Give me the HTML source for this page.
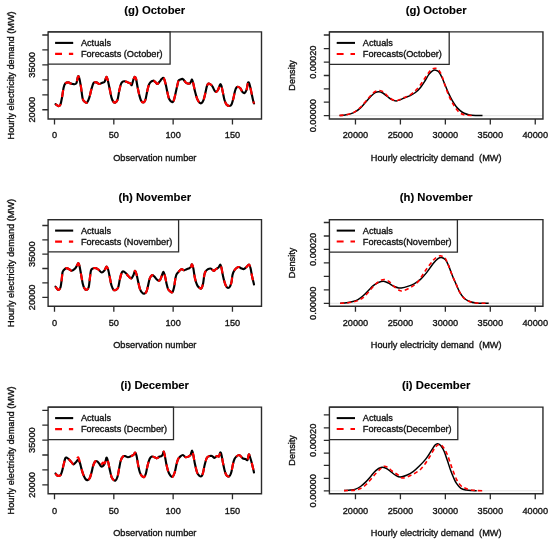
<!DOCTYPE html><html><head><meta charset="utf-8"><style>html,body{margin:0;padding:0;background:#fff;}svg{display:block;}text{font-family:"Liberation Sans", Arial, Helvetica, sans-serif;stroke:#111;stroke-width:0.34px;}</style></head><body>
<svg width="550" height="541" viewBox="0 0 550 541">
<rect width="550" height="541" fill="#fff"/>
<text x="154.80" y="13.60" font-size="11.3" font-weight="bold" text-anchor="middle" fill="#000" style="stroke-width:0.12px">(g) October</text>
<text x="436.18" y="13.60" font-size="11.3" font-weight="bold" text-anchor="middle" fill="#000" style="stroke-width:0.12px">(g) October</text>
<path d="M48.10 31.90H261.50V118.95H48.10Z" fill="none" stroke="#2b2b2b" stroke-width="1.4"/>
<path d="M42.30 35.00H48.10M42.30 49.95H48.10M42.30 64.90H48.10M42.30 79.85H48.10M42.30 94.80H48.10M42.30 109.75H48.10" stroke="#2b2b2b" stroke-width="1.3" fill="none"/>
<text transform="translate(35.3 64.90) rotate(-90)" font-size="9.2" text-anchor="middle" fill="#111">35000</text>
<text transform="translate(35.3 109.75) rotate(-90)" font-size="9.2" text-anchor="middle" fill="#111">20000</text>
<text transform="translate(13.9 75.42) rotate(-90)" font-size="9.2" text-anchor="middle" fill="#111">Hourly electricity demand (MW)</text>
<path d="M54.50 118.95V124.55M113.82 118.95V124.55M173.14 118.95V124.55M232.46 118.95V124.55" stroke="#2b2b2b" stroke-width="1.3" fill="none"/>
<text x="54.50" y="138.40" font-size="9.2" text-anchor="middle" fill="#111">0</text>
<text x="113.82" y="138.40" font-size="9.2" text-anchor="middle" fill="#111">50</text>
<text x="173.14" y="138.40" font-size="9.2" text-anchor="middle" fill="#111">100</text>
<text x="232.46" y="138.40" font-size="9.2" text-anchor="middle" fill="#111">150</text>
<text x="154.80" y="161.00" font-size="9.2" text-anchor="middle" fill="#111">Observation number</text>
<path d="M48.10 31.90H170.10V64.20H48.10" fill="none" stroke="#2b2b2b" stroke-width="1.3"/>
<path d="M55.10 42.90H73.20" stroke="#000" stroke-width="2.1"/>
<path d="M55.10 53.90H73.20" stroke="#f00" stroke-width="2.1" stroke-dasharray="6.9 6.9"/>
<text x="80.90" y="45.80" font-size="9.2" fill="#111">Actuals</text>
<text x="80.90" y="56.80" font-size="9.2" fill="#111">Forecasts (October)</text>
<path d="M55.50 104.20 C56.03 104.52 57.88 106.02 58.70 106.10 C59.52 106.18 59.85 106.12 60.40 104.70 C60.95 103.28 61.47 100.42 62.00 97.60 C62.53 94.78 63.05 90.15 63.60 87.80 C64.15 85.45 64.48 84.40 65.30 83.50 C66.12 82.60 67.60 82.40 68.50 82.40 C69.40 82.40 69.97 83.23 70.70 83.50 C71.43 83.77 71.98 84.00 72.90 84.00 C73.82 84.00 75.33 84.77 76.20 83.50 C77.07 82.23 77.55 77.13 78.10 76.40 C78.65 75.67 79.00 77.20 79.50 79.10 C80.00 81.00 80.57 84.53 81.10 87.80 C81.63 91.07 82.07 96.33 82.70 98.70 C83.33 101.07 84.17 101.37 84.90 102.00 C85.63 102.63 86.37 103.23 87.10 102.50 C87.83 101.77 88.57 99.87 89.30 97.60 C90.03 95.33 90.78 91.35 91.50 88.90 C92.22 86.45 92.78 83.98 93.60 82.90 C94.42 81.82 95.48 82.22 96.40 82.40 C97.32 82.58 98.20 83.92 99.10 84.00 C100.00 84.08 100.90 83.27 101.80 82.90 C102.70 82.53 103.72 82.80 104.50 81.80 C105.28 80.80 105.87 76.80 106.50 76.90 C107.13 77.00 107.73 80.22 108.30 82.40 C108.87 84.58 109.37 87.47 109.90 90.00 C110.43 92.53 110.95 95.68 111.50 97.60 C112.05 99.52 112.55 100.68 113.20 101.50 C113.85 102.32 114.68 102.78 115.40 102.50 C116.12 102.22 116.87 101.70 117.50 99.80 C118.13 97.90 118.65 93.65 119.20 91.10 C119.75 88.55 120.25 86.05 120.80 84.50 C121.35 82.95 121.87 82.33 122.50 81.80 C123.13 81.27 123.70 81.20 124.60 81.30 C125.50 81.40 126.90 82.03 127.90 82.40 C128.90 82.77 129.97 83.05 130.60 83.50 C131.23 83.95 131.23 85.75 131.70 85.10 C132.17 84.45 132.90 80.97 133.40 79.60 C133.90 78.23 134.25 76.98 134.70 76.90 C135.15 76.82 135.60 77.28 136.10 79.10 C136.60 80.92 137.15 85.07 137.70 87.80 C138.25 90.53 138.85 93.40 139.40 95.50 C139.95 97.60 140.37 99.23 141.00 100.40 C141.63 101.57 142.47 102.60 143.20 102.50 C143.93 102.40 144.77 101.52 145.40 99.80 C146.03 98.08 146.47 94.57 147.00 92.20 C147.53 89.83 148.05 87.23 148.60 85.60 C149.15 83.97 149.57 83.22 150.30 82.40 C151.03 81.58 152.18 80.80 153.00 80.70 C153.82 80.60 154.47 81.25 155.20 81.80 C155.93 82.35 156.68 84.00 157.40 84.00 C158.12 84.00 158.80 82.62 159.50 81.80 C160.20 80.98 160.97 79.77 161.60 79.10 C162.23 78.43 162.83 77.72 163.30 77.80 C163.77 77.88 163.95 78.30 164.40 79.60 C164.85 80.90 165.47 83.32 166.00 85.60 C166.53 87.88 167.05 91.02 167.60 93.30 C168.15 95.58 168.57 97.85 169.30 99.30 C170.03 100.75 171.28 101.73 172.00 102.00 C172.72 102.27 173.05 102.17 173.60 100.90 C174.15 99.63 174.75 96.67 175.30 94.40 C175.85 92.13 176.37 89.58 176.90 87.30 C177.43 85.02 177.95 81.98 178.50 80.70 C179.05 79.42 179.55 79.90 180.20 79.60 C180.85 79.30 181.77 78.80 182.40 78.90 C183.03 79.00 183.37 79.53 184.00 80.20 C184.63 80.87 185.28 82.35 186.20 82.90 C187.12 83.45 188.68 83.77 189.50 83.50 C190.32 83.23 190.68 81.95 191.10 81.30 C191.52 80.65 191.63 79.23 192.00 79.60 C192.37 79.97 192.82 81.58 193.30 83.50 C193.78 85.42 194.27 88.57 194.90 91.10 C195.53 93.63 196.37 96.80 197.10 98.70 C197.83 100.60 198.57 101.77 199.30 102.50 C200.03 103.23 200.78 103.55 201.50 103.10 C202.22 102.65 202.97 101.43 203.60 99.80 C204.23 98.17 204.75 95.57 205.30 93.30 C205.85 91.03 206.37 87.83 206.90 86.20 C207.43 84.57 207.87 83.78 208.50 83.50 C209.13 83.22 210.03 84.00 210.70 84.50 C211.37 85.00 211.87 85.50 212.50 86.50 C213.13 87.50 213.92 89.58 214.50 90.50 C215.08 91.42 215.42 92.08 216.00 92.00 C216.58 91.92 217.42 91.00 218.00 90.00 C218.58 89.00 219.08 87.00 219.50 86.00 C219.92 85.00 220.17 84.00 220.50 84.00 C220.83 84.00 221.08 84.50 221.50 86.00 C221.92 87.50 222.50 90.67 223.00 93.00 C223.50 95.33 223.92 98.08 224.50 100.00 C225.08 101.92 225.67 103.50 226.50 104.50 C227.33 105.50 228.67 106.00 229.50 106.00 C230.33 106.00 230.83 105.83 231.50 104.50 C232.17 103.17 232.92 100.25 233.50 98.00 C234.08 95.75 234.50 92.75 235.00 91.00 C235.50 89.25 235.92 88.17 236.50 87.50 C237.08 86.83 237.83 86.83 238.50 87.00 C239.17 87.17 239.83 87.67 240.50 88.50 C241.17 89.33 241.83 91.25 242.50 92.00 C243.17 92.75 243.83 93.33 244.50 93.00 C245.17 92.67 245.95 91.58 246.50 90.00 C247.05 88.42 247.42 84.75 247.80 83.50 C248.18 82.25 248.43 82.08 248.80 82.50 C249.17 82.92 249.55 84.25 250.00 86.00 C250.45 87.75 251.00 90.67 251.50 93.00 C252.00 95.33 252.58 98.25 253.00 100.00 C253.42 101.75 253.83 102.92 254.00 103.50" fill="none" stroke="#000" stroke-width="2.15" stroke-linejoin="round" stroke-linecap="round"/>
<path d="M55.50 104.20 C56.03 104.52 57.88 106.02 58.70 106.10 C59.52 106.18 59.85 106.12 60.40 104.70 C60.95 103.28 61.47 100.42 62.00 97.60 C62.53 94.78 63.05 90.15 63.60 87.80 C64.15 85.45 64.48 84.40 65.30 83.50 C66.12 82.60 67.60 82.40 68.50 82.40 C69.40 82.40 69.97 83.23 70.70 83.50 C71.43 83.77 71.98 84.00 72.90 84.00 C73.82 84.00 75.33 84.77 76.20 83.50 C77.07 82.23 77.55 77.13 78.10 76.40 C78.65 75.67 79.00 77.20 79.50 79.10 C80.00 81.00 80.57 84.53 81.10 87.80 C81.63 91.07 82.07 96.33 82.70 98.70 C83.33 101.07 84.17 101.37 84.90 102.00 C85.63 102.63 86.37 103.23 87.10 102.50 C87.83 101.77 88.57 99.87 89.30 97.60 C90.03 95.33 90.78 91.35 91.50 88.90 C92.22 86.45 92.78 83.98 93.60 82.90 C94.42 81.82 95.48 82.22 96.40 82.40 C97.32 82.58 98.20 83.92 99.10 84.00 C100.00 84.08 100.90 83.27 101.80 82.90 C102.70 82.53 103.72 82.80 104.50 81.80 C105.28 80.80 105.87 76.80 106.50 76.90 C107.13 77.00 107.73 80.22 108.30 82.40 C108.87 84.58 109.37 87.47 109.90 90.00 C110.43 92.53 110.95 95.68 111.50 97.60 C112.05 99.52 112.55 100.68 113.20 101.50 C113.85 102.32 114.68 102.78 115.40 102.50 C116.12 102.22 116.87 101.70 117.50 99.80 C118.13 97.90 118.65 93.65 119.20 91.10 C119.75 88.55 120.25 86.05 120.80 84.50 C121.35 82.95 121.87 82.33 122.50 81.80 C123.13 81.27 123.70 81.20 124.60 81.30 C125.50 81.40 126.90 82.03 127.90 82.40 C128.90 82.77 129.97 83.05 130.60 83.50 C131.23 83.95 131.23 85.75 131.70 85.10 C132.17 84.45 132.90 80.97 133.40 79.60 C133.90 78.23 134.25 76.98 134.70 76.90 C135.15 76.82 135.60 77.28 136.10 79.10 C136.60 80.92 137.15 85.07 137.70 87.80 C138.25 90.53 138.85 93.40 139.40 95.50 C139.95 97.60 140.37 99.23 141.00 100.40 C141.63 101.57 142.47 102.60 143.20 102.50 C143.93 102.40 144.77 101.52 145.40 99.80 C146.03 98.08 146.47 94.57 147.00 92.20 C147.53 89.83 148.05 87.23 148.60 85.60 C149.15 83.97 149.57 83.22 150.30 82.40 C151.03 81.58 152.18 80.80 153.00 80.70 C153.82 80.60 154.47 81.25 155.20 81.80 C155.93 82.35 156.68 84.00 157.40 84.00 C158.12 84.00 158.80 82.62 159.50 81.80 C160.20 80.98 160.97 79.77 161.60 79.10 C162.23 78.43 162.83 77.72 163.30 77.80 C163.77 77.88 163.95 78.30 164.40 79.60 C164.85 80.90 165.47 83.32 166.00 85.60 C166.53 87.88 167.05 91.02 167.60 93.30 C168.15 95.58 168.57 97.85 169.30 99.30 C170.03 100.75 171.28 101.73 172.00 102.00 C172.72 102.27 173.05 102.17 173.60 100.90 C174.15 99.63 174.75 96.67 175.30 94.40 C175.85 92.13 176.37 89.58 176.90 87.30 C177.43 85.02 177.95 81.98 178.50 80.70 C179.05 79.42 179.55 79.90 180.20 79.60 C180.85 79.30 181.77 78.80 182.40 78.90 C183.03 79.00 183.37 79.53 184.00 80.20 C184.63 80.87 185.28 82.35 186.20 82.90 C187.12 83.45 188.68 83.77 189.50 83.50 C190.32 83.23 190.68 81.95 191.10 81.30 C191.52 80.65 191.63 79.23 192.00 79.60 C192.37 79.97 192.82 81.58 193.30 83.50 C193.78 85.42 194.27 88.57 194.90 91.10 C195.53 93.63 196.37 96.80 197.10 98.70 C197.83 100.60 198.57 101.77 199.30 102.50 C200.03 103.23 200.78 103.55 201.50 103.10 C202.22 102.65 202.97 101.43 203.60 99.80 C204.23 98.17 204.75 95.57 205.30 93.30 C205.85 91.03 206.37 87.83 206.90 86.20 C207.43 84.57 207.87 83.78 208.50 83.50 C209.13 83.22 210.03 84.00 210.70 84.50 C211.37 85.00 211.87 85.50 212.50 86.50 C213.13 87.50 213.92 89.58 214.50 90.50 C215.08 91.42 215.42 92.08 216.00 92.00 C216.58 91.92 217.42 91.00 218.00 90.00 C218.58 89.00 219.08 87.00 219.50 86.00 C219.92 85.00 220.17 84.00 220.50 84.00 C220.83 84.00 221.08 84.50 221.50 86.00 C221.92 87.50 222.50 90.67 223.00 93.00 C223.50 95.33 223.92 98.08 224.50 100.00 C225.08 101.92 225.67 103.50 226.50 104.50 C227.33 105.50 228.67 106.00 229.50 106.00 C230.33 106.00 230.83 105.83 231.50 104.50 C232.17 103.17 232.92 100.25 233.50 98.00 C234.08 95.75 234.50 92.75 235.00 91.00 C235.50 89.25 235.92 88.17 236.50 87.50 C237.08 86.83 237.83 86.83 238.50 87.00 C239.17 87.17 239.83 87.67 240.50 88.50 C241.17 89.33 241.83 91.25 242.50 92.00 C243.17 92.75 243.83 93.33 244.50 93.00 C245.17 92.67 245.95 91.58 246.50 90.00 C247.05 88.42 247.42 84.75 247.80 83.50 C248.18 82.25 248.43 82.08 248.80 82.50 C249.17 82.92 249.55 84.25 250.00 86.00 C250.45 87.75 251.00 90.67 251.50 93.00 C252.00 95.33 252.58 98.25 253.00 100.00 C253.42 101.75 253.83 102.92 254.00 103.50" fill="none" stroke="#f00" stroke-width="2.15" stroke-linejoin="round" stroke-dasharray="7 7" stroke-dashoffset="0"/>
<path d="M329.40 115.70H542.95" stroke="#e0e0e0" stroke-width="0.9"/>
<path d="M329.40 31.90H542.95V118.95H329.40Z" fill="none" stroke="#2b2b2b" stroke-width="1.4"/>
<path d="M323.80 35.00H329.40M323.80 48.60H329.40M323.80 62.20H329.40M323.80 75.50H329.40M323.80 88.80H329.40M323.80 102.20H329.40M323.80 115.70H329.40" stroke="#2b2b2b" stroke-width="1.3" fill="none"/>
<text transform="translate(316.4 62.20) rotate(-90)" font-size="9.2" text-anchor="middle" fill="#111">0.00020</text>
<text transform="translate(316.4 115.70) rotate(-90)" font-size="9.2" text-anchor="middle" fill="#111">0.00000</text>
<text transform="translate(294.9 75.42) rotate(-90)" font-size="9.2" text-anchor="middle" fill="#111">Density</text>
<path d="M355.46 118.95V124.55M400.41 118.95V124.55M445.36 118.95V124.55M490.30 118.95V124.55M535.25 118.95V124.55" stroke="#2b2b2b" stroke-width="1.3" fill="none"/>
<text x="355.46" y="138.40" font-size="9.2" text-anchor="middle" fill="#111">20000</text>
<text x="400.41" y="138.40" font-size="9.2" text-anchor="middle" fill="#111">25000</text>
<text x="445.36" y="138.40" font-size="9.2" text-anchor="middle" fill="#111">30000</text>
<text x="490.30" y="138.40" font-size="9.2" text-anchor="middle" fill="#111">35000</text>
<text x="535.25" y="138.40" font-size="9.2" text-anchor="middle" fill="#111">40000</text>
<text x="436.18" y="161.00" font-size="9.2" text-anchor="middle" fill="#111" xml:space="preserve">Hourly electricity demand  (MW)</text>
<path d="M329.40 31.90H449.20V64.30H329.40" fill="none" stroke="#2b2b2b" stroke-width="1.3"/>
<path d="M336.70 42.90H355.00" stroke="#000" stroke-width="2.0"/>
<path d="M336.70 53.90H355.00" stroke="#f00" stroke-width="2.0" stroke-dasharray="6.9 6.9"/>
<text x="362.80" y="45.80" font-size="9.2" fill="#111">Actuals</text>
<text x="362.80" y="56.80" font-size="9.2" fill="#111">Forecasts(October)</text>
<path d="M339.50 115.50 C340.47 115.40 343.48 115.17 345.30 114.90 C347.12 114.63 348.70 114.43 350.40 113.90 C352.10 113.37 353.82 112.70 355.50 111.70 C357.18 110.70 358.82 109.48 360.50 107.90 C362.18 106.32 363.90 104.10 365.60 102.20 C367.30 100.30 369.10 98.10 370.70 96.50 C372.30 94.90 373.82 93.40 375.20 92.60 C376.58 91.80 377.73 91.63 379.00 91.70 C380.27 91.77 381.42 92.20 382.80 93.00 C384.18 93.80 385.82 95.40 387.30 96.50 C388.78 97.60 390.22 98.87 391.70 99.60 C393.18 100.33 394.80 100.88 396.20 100.90 C397.60 100.92 398.60 100.27 400.10 99.70 C401.60 99.13 403.50 98.18 405.20 97.50 C406.90 96.82 408.60 96.43 410.30 95.60 C412.00 94.77 413.70 93.87 415.40 92.50 C417.10 91.13 418.92 89.32 420.50 87.40 C422.08 85.48 423.53 83.13 424.90 81.00 C426.27 78.87 427.43 76.30 428.70 74.60 C429.97 72.90 431.33 71.53 432.50 70.80 C433.67 70.07 434.63 69.98 435.70 70.20 C436.77 70.42 437.83 70.83 438.90 72.10 C439.97 73.37 441.03 75.57 442.10 77.80 C443.17 80.03 444.23 82.95 445.30 85.50 C446.37 88.05 447.33 90.57 448.50 93.10 C449.67 95.63 451.03 98.47 452.30 100.70 C453.57 102.93 454.83 104.90 456.10 106.50 C457.37 108.10 458.55 109.17 459.90 110.30 C461.25 111.43 462.60 112.53 464.20 113.30 C465.80 114.07 467.53 114.53 469.50 114.90 C471.47 115.27 473.83 115.38 476.00 115.50 C478.17 115.62 481.42 115.58 482.50 115.60" fill="none" stroke="#000" stroke-width="1.5" stroke-linejoin="round"/>
<path d="M339.50 115.50 C340.47 115.40 343.48 115.20 345.30 114.90 C347.12 114.60 348.70 114.30 350.40 113.70 C352.10 113.10 353.82 112.37 355.50 111.30 C357.18 110.23 358.82 108.93 360.50 107.30 C362.18 105.67 363.90 103.45 365.60 101.50 C367.30 99.55 369.10 97.27 370.70 95.60 C372.30 93.93 373.73 92.35 375.20 91.50 C376.67 90.65 378.12 90.42 379.50 90.50 C380.88 90.58 382.20 91.12 383.50 92.00 C384.80 92.88 385.93 94.60 387.30 95.80 C388.67 97.00 390.22 98.38 391.70 99.20 C393.18 100.02 394.80 100.67 396.20 100.70 C397.60 100.73 398.80 99.92 400.10 99.40 C401.40 98.88 402.73 98.12 404.00 97.60 C405.27 97.08 406.03 97.23 407.70 96.30 C409.37 95.37 411.87 93.92 414.00 92.00 C416.13 90.08 418.37 87.58 420.50 84.80 C422.63 82.02 424.97 77.85 426.80 75.30 C428.63 72.75 430.02 70.67 431.50 69.50 C432.98 68.33 434.45 68.13 435.70 68.30 C436.95 68.47 437.95 69.22 439.00 70.50 C440.05 71.78 441.07 73.72 442.00 76.00 C442.93 78.28 443.48 80.98 444.60 84.20 C445.72 87.42 447.28 92.00 448.70 95.30 C450.12 98.60 451.47 101.28 453.10 104.00 C454.73 106.72 456.68 109.82 458.50 111.60 C460.32 113.38 461.63 114.03 464.00 114.70 C466.37 115.37 471.25 115.45 472.70 115.60" fill="none" stroke="#f00" stroke-width="1.6" stroke-dasharray="4 3"/>
<text x="154.80" y="201.30" font-size="11.3" font-weight="bold" text-anchor="middle" fill="#000" style="stroke-width:0.12px">(h) November</text>
<text x="436.18" y="201.30" font-size="11.3" font-weight="bold" text-anchor="middle" fill="#000" style="stroke-width:0.12px">(h) November</text>
<path d="M48.10 219.60H261.50V306.25H48.10Z" fill="none" stroke="#2b2b2b" stroke-width="1.4"/>
<path d="M42.30 225.50H48.10M42.30 239.90H48.10M42.30 254.20H48.10M42.30 268.50H48.10M42.30 282.90H48.10M42.30 297.40H48.10" stroke="#2b2b2b" stroke-width="1.3" fill="none"/>
<text transform="translate(35.3 254.20) rotate(-90)" font-size="9.2" text-anchor="middle" fill="#111">35000</text>
<text transform="translate(35.3 297.40) rotate(-90)" font-size="9.2" text-anchor="middle" fill="#111">20000</text>
<text transform="translate(13.9 262.93) rotate(-90)" font-size="9.2" text-anchor="middle" fill="#111">Hourly electricity demand (MW)</text>
<path d="M54.50 306.25V311.85M113.82 306.25V311.85M173.14 306.25V311.85M232.46 306.25V311.85" stroke="#2b2b2b" stroke-width="1.3" fill="none"/>
<text x="54.50" y="326.10" font-size="9.2" text-anchor="middle" fill="#111">0</text>
<text x="113.82" y="326.10" font-size="9.2" text-anchor="middle" fill="#111">50</text>
<text x="173.14" y="326.10" font-size="9.2" text-anchor="middle" fill="#111">100</text>
<text x="232.46" y="326.10" font-size="9.2" text-anchor="middle" fill="#111">150</text>
<text x="154.80" y="348.30" font-size="9.2" text-anchor="middle" fill="#111">Observation number</text>
<path d="M48.10 219.60H178.60V251.90H48.10" fill="none" stroke="#2b2b2b" stroke-width="1.3"/>
<path d="M55.10 230.60H73.20" stroke="#000" stroke-width="2.1"/>
<path d="M55.10 241.60H73.20" stroke="#f00" stroke-width="2.1" stroke-dasharray="6.9 6.9"/>
<text x="80.90" y="233.50" font-size="9.2" fill="#111">Actuals</text>
<text x="80.90" y="244.50" font-size="9.2" fill="#111">Forecasts (November)</text>
<path d="M55.50 286.60 C55.95 287.15 57.38 289.72 58.20 289.90 C59.02 290.08 59.85 289.15 60.40 287.70 C60.95 286.25 61.15 283.73 61.50 281.20 C61.85 278.67 62.15 274.32 62.50 272.50 C62.85 270.68 62.95 271.03 63.60 270.30 C64.25 269.57 65.48 268.28 66.40 268.10 C67.32 267.92 68.20 268.75 69.10 269.20 C70.00 269.65 70.80 270.90 71.80 270.80 C72.80 270.70 74.18 269.60 75.10 268.60 C76.02 267.60 76.75 265.70 77.30 264.80 C77.85 263.90 78.03 263.02 78.40 263.20 C78.77 263.38 79.05 264.00 79.50 265.90 C79.95 267.80 80.57 271.68 81.10 274.60 C81.63 277.52 82.15 281.12 82.70 283.40 C83.25 285.68 83.77 287.22 84.40 288.30 C85.03 289.38 85.78 290.08 86.50 289.90 C87.22 289.72 88.15 289.02 88.70 287.20 C89.25 285.38 89.43 281.73 89.80 279.00 C90.17 276.27 90.45 272.53 90.90 270.80 C91.35 269.07 91.68 269.05 92.50 268.60 C93.32 268.15 94.80 267.92 95.80 268.10 C96.80 268.28 97.50 268.97 98.50 269.70 C99.50 270.43 100.80 272.40 101.80 272.50 C102.80 272.60 103.70 271.30 104.50 270.30 C105.30 269.30 105.97 266.50 106.60 266.50 C107.23 266.50 107.75 268.40 108.30 270.30 C108.85 272.20 109.37 275.37 109.90 277.90 C110.43 280.43 110.87 283.50 111.50 285.50 C112.13 287.50 112.97 289.17 113.70 289.90 C114.43 290.63 115.17 290.27 115.90 289.90 C116.63 289.53 117.47 289.33 118.10 287.70 C118.73 286.07 119.15 282.47 119.70 280.10 C120.25 277.73 120.85 274.95 121.40 273.50 C121.95 272.05 122.28 271.48 123.00 271.40 C123.72 271.32 124.78 272.18 125.70 273.00 C126.62 273.82 127.58 275.38 128.50 276.30 C129.42 277.22 130.38 278.68 131.20 278.50 C132.02 278.32 132.77 276.48 133.40 275.20 C134.03 273.92 134.47 270.90 135.00 270.80 C135.53 270.70 136.05 272.68 136.60 274.60 C137.15 276.52 137.75 279.93 138.30 282.30 C138.85 284.67 139.27 287.08 139.90 288.80 C140.53 290.52 141.37 291.78 142.10 292.60 C142.83 293.42 143.57 293.88 144.30 293.70 C145.03 293.52 145.87 292.87 146.50 291.50 C147.13 290.13 147.57 287.67 148.10 285.50 C148.63 283.33 149.07 280.22 149.70 278.50 C150.33 276.78 151.17 275.57 151.90 275.20 C152.63 274.83 153.37 275.67 154.10 276.30 C154.83 276.93 155.57 278.28 156.30 279.00 C157.03 279.72 157.88 280.42 158.50 280.60 C159.12 280.78 159.48 280.82 160.00 280.10 C160.52 279.38 161.05 277.67 161.60 276.30 C162.15 274.93 162.75 272.00 163.30 271.90 C163.85 271.80 164.37 273.78 164.90 275.70 C165.43 277.62 165.95 281.12 166.50 283.40 C167.05 285.68 167.55 288.05 168.20 289.40 C168.85 290.75 169.68 291.05 170.40 291.50 C171.12 291.95 171.87 292.92 172.50 292.10 C173.13 291.28 173.73 288.78 174.20 286.60 C174.67 284.42 174.93 281.00 175.30 279.00 C175.67 277.00 175.87 275.78 176.40 274.60 C176.93 273.42 177.68 272.80 178.50 271.90 C179.32 271.00 180.38 269.47 181.30 269.20 C182.22 268.93 183.10 270.30 184.00 270.30 C184.90 270.30 185.78 269.57 186.70 269.20 C187.62 268.83 188.77 268.55 189.50 268.10 C190.23 267.65 190.68 267.13 191.10 266.50 C191.52 265.87 191.63 264.03 192.00 264.30 C192.37 264.57 192.82 265.83 193.30 268.10 C193.78 270.37 194.27 275.08 194.90 277.90 C195.53 280.72 196.37 283.37 197.10 285.00 C197.83 286.63 198.57 287.15 199.30 287.70 C200.03 288.25 200.87 289.02 201.50 288.30 C202.13 287.58 202.65 285.50 203.10 283.40 C203.55 281.30 203.83 277.62 204.20 275.70 C204.57 273.78 204.67 272.98 205.30 271.90 C205.93 270.82 207.13 269.77 208.00 269.20 C208.87 268.63 209.83 268.45 210.50 268.50 C211.17 268.55 211.42 269.08 212.00 269.50 C212.58 269.92 213.33 271.08 214.00 271.00 C214.67 270.92 215.25 269.58 216.00 269.00 C216.75 268.42 217.78 268.25 218.50 267.50 C219.22 266.75 219.80 264.42 220.30 264.50 C220.80 264.58 221.05 266.08 221.50 268.00 C221.95 269.92 222.50 273.67 223.00 276.00 C223.50 278.33 224.00 280.33 224.50 282.00 C225.00 283.67 225.42 285.00 226.00 286.00 C226.58 287.00 227.33 287.92 228.00 288.00 C228.67 288.08 229.42 287.50 230.00 286.50 C230.58 285.50 231.08 283.92 231.50 282.00 C231.92 280.08 232.08 276.83 232.50 275.00 C232.92 273.17 233.33 272.17 234.00 271.00 C234.67 269.83 235.67 268.67 236.50 268.00 C237.33 267.33 238.17 266.92 239.00 267.00 C239.83 267.08 240.67 268.17 241.50 268.50 C242.33 268.83 243.17 269.25 244.00 269.00 C244.83 268.75 245.67 267.75 246.50 267.00 C247.33 266.25 248.33 264.33 249.00 264.50 C249.67 264.67 250.00 266.08 250.50 268.00 C251.00 269.92 251.42 273.25 252.00 276.00 C252.58 278.75 253.67 283.08 254.00 284.50" fill="none" stroke="#000" stroke-width="2.15" stroke-linejoin="round" stroke-linecap="round"/>
<path d="M55.50 286.60 C55.95 287.15 57.38 289.72 58.20 289.90 C59.02 290.08 59.85 289.15 60.40 287.70 C60.95 286.25 61.15 283.73 61.50 281.20 C61.85 278.67 62.15 274.32 62.50 272.50 C62.85 270.68 62.95 271.03 63.60 270.30 C64.25 269.57 65.48 268.28 66.40 268.10 C67.32 267.92 68.20 268.75 69.10 269.20 C70.00 269.65 70.80 270.90 71.80 270.80 C72.80 270.70 74.18 269.60 75.10 268.60 C76.02 267.60 76.75 265.70 77.30 264.80 C77.85 263.90 78.03 263.02 78.40 263.20 C78.77 263.38 79.05 264.00 79.50 265.90 C79.95 267.80 80.57 271.68 81.10 274.60 C81.63 277.52 82.15 281.12 82.70 283.40 C83.25 285.68 83.77 287.22 84.40 288.30 C85.03 289.38 85.78 290.08 86.50 289.90 C87.22 289.72 88.15 289.02 88.70 287.20 C89.25 285.38 89.43 281.73 89.80 279.00 C90.17 276.27 90.45 272.53 90.90 270.80 C91.35 269.07 91.68 269.05 92.50 268.60 C93.32 268.15 94.80 267.92 95.80 268.10 C96.80 268.28 97.50 268.97 98.50 269.70 C99.50 270.43 100.80 272.40 101.80 272.50 C102.80 272.60 103.70 271.30 104.50 270.30 C105.30 269.30 105.97 266.50 106.60 266.50 C107.23 266.50 107.75 268.40 108.30 270.30 C108.85 272.20 109.37 275.37 109.90 277.90 C110.43 280.43 110.87 283.50 111.50 285.50 C112.13 287.50 112.97 289.17 113.70 289.90 C114.43 290.63 115.17 290.27 115.90 289.90 C116.63 289.53 117.47 289.33 118.10 287.70 C118.73 286.07 119.15 282.47 119.70 280.10 C120.25 277.73 120.85 274.95 121.40 273.50 C121.95 272.05 122.28 271.48 123.00 271.40 C123.72 271.32 124.78 272.18 125.70 273.00 C126.62 273.82 127.58 275.38 128.50 276.30 C129.42 277.22 130.38 278.68 131.20 278.50 C132.02 278.32 132.77 276.48 133.40 275.20 C134.03 273.92 134.47 270.90 135.00 270.80 C135.53 270.70 136.05 272.68 136.60 274.60 C137.15 276.52 137.75 279.93 138.30 282.30 C138.85 284.67 139.27 287.08 139.90 288.80 C140.53 290.52 141.37 291.78 142.10 292.60 C142.83 293.42 143.57 293.88 144.30 293.70 C145.03 293.52 145.87 292.87 146.50 291.50 C147.13 290.13 147.57 287.67 148.10 285.50 C148.63 283.33 149.07 280.22 149.70 278.50 C150.33 276.78 151.17 275.57 151.90 275.20 C152.63 274.83 153.37 275.67 154.10 276.30 C154.83 276.93 155.57 278.28 156.30 279.00 C157.03 279.72 157.88 280.42 158.50 280.60 C159.12 280.78 159.48 280.82 160.00 280.10 C160.52 279.38 161.05 277.67 161.60 276.30 C162.15 274.93 162.75 272.00 163.30 271.90 C163.85 271.80 164.37 273.78 164.90 275.70 C165.43 277.62 165.95 281.12 166.50 283.40 C167.05 285.68 167.55 288.05 168.20 289.40 C168.85 290.75 169.68 291.05 170.40 291.50 C171.12 291.95 171.87 292.92 172.50 292.10 C173.13 291.28 173.73 288.78 174.20 286.60 C174.67 284.42 174.93 281.00 175.30 279.00 C175.67 277.00 175.87 275.78 176.40 274.60 C176.93 273.42 177.68 272.80 178.50 271.90 C179.32 271.00 180.38 269.47 181.30 269.20 C182.22 268.93 183.10 270.30 184.00 270.30 C184.90 270.30 185.78 269.57 186.70 269.20 C187.62 268.83 188.77 268.55 189.50 268.10 C190.23 267.65 190.68 267.13 191.10 266.50 C191.52 265.87 191.63 264.03 192.00 264.30 C192.37 264.57 192.82 265.83 193.30 268.10 C193.78 270.37 194.27 275.08 194.90 277.90 C195.53 280.72 196.37 283.37 197.10 285.00 C197.83 286.63 198.57 287.15 199.30 287.70 C200.03 288.25 200.87 289.02 201.50 288.30 C202.13 287.58 202.65 285.50 203.10 283.40 C203.55 281.30 203.83 277.62 204.20 275.70 C204.57 273.78 204.67 272.98 205.30 271.90 C205.93 270.82 207.13 269.77 208.00 269.20 C208.87 268.63 209.83 268.45 210.50 268.50 C211.17 268.55 211.42 269.08 212.00 269.50 C212.58 269.92 213.33 271.08 214.00 271.00 C214.67 270.92 215.25 269.58 216.00 269.00 C216.75 268.42 217.78 268.25 218.50 267.50 C219.22 266.75 219.80 264.42 220.30 264.50 C220.80 264.58 221.05 266.08 221.50 268.00 C221.95 269.92 222.50 273.67 223.00 276.00 C223.50 278.33 224.00 280.33 224.50 282.00 C225.00 283.67 225.42 285.00 226.00 286.00 C226.58 287.00 227.33 287.92 228.00 288.00 C228.67 288.08 229.42 287.50 230.00 286.50 C230.58 285.50 231.08 283.92 231.50 282.00 C231.92 280.08 232.08 276.83 232.50 275.00 C232.92 273.17 233.33 272.17 234.00 271.00 C234.67 269.83 235.67 268.67 236.50 268.00 C237.33 267.33 238.17 266.92 239.00 267.00 C239.83 267.08 240.67 268.17 241.50 268.50 C242.33 268.83 243.17 269.25 244.00 269.00 C244.83 268.75 245.67 267.75 246.50 267.00 C247.33 266.25 248.33 264.33 249.00 264.50 C249.67 264.67 250.00 266.08 250.50 268.00 C251.00 269.92 251.42 273.25 252.00 276.00 C252.58 278.75 253.67 283.08 254.00 284.50" fill="none" stroke="#f00" stroke-width="2.15" stroke-linejoin="round" stroke-dasharray="7 7" stroke-dashoffset="0"/>
<path d="M329.40 303.30H542.95" stroke="#e0e0e0" stroke-width="0.9"/>
<path d="M329.40 219.60H542.95V306.25H329.40Z" fill="none" stroke="#2b2b2b" stroke-width="1.4"/>
<path d="M323.80 222.50H329.40M323.80 236.00H329.40M323.80 249.40H329.40M323.80 262.90H329.40M323.80 276.30H329.40M323.80 289.80H329.40M323.80 303.30H329.40" stroke="#2b2b2b" stroke-width="1.3" fill="none"/>
<text transform="translate(316.4 249.40) rotate(-90)" font-size="9.2" text-anchor="middle" fill="#111">0.00020</text>
<text transform="translate(316.4 303.30) rotate(-90)" font-size="9.2" text-anchor="middle" fill="#111">0.00000</text>
<text transform="translate(294.9 262.93) rotate(-90)" font-size="9.2" text-anchor="middle" fill="#111">Density</text>
<path d="M355.46 306.25V311.85M400.41 306.25V311.85M445.36 306.25V311.85M490.30 306.25V311.85M535.25 306.25V311.85" stroke="#2b2b2b" stroke-width="1.3" fill="none"/>
<text x="355.46" y="326.10" font-size="9.2" text-anchor="middle" fill="#111">20000</text>
<text x="400.41" y="326.10" font-size="9.2" text-anchor="middle" fill="#111">25000</text>
<text x="445.36" y="326.10" font-size="9.2" text-anchor="middle" fill="#111">30000</text>
<text x="490.30" y="326.10" font-size="9.2" text-anchor="middle" fill="#111">35000</text>
<text x="535.25" y="326.10" font-size="9.2" text-anchor="middle" fill="#111">40000</text>
<text x="436.18" y="348.30" font-size="9.2" text-anchor="middle" fill="#111" xml:space="preserve">Hourly electricity demand  (MW)</text>
<path d="M329.40 219.60H457.40V252.20H329.40" fill="none" stroke="#2b2b2b" stroke-width="1.3"/>
<path d="M336.70 230.60H355.00" stroke="#000" stroke-width="2.0"/>
<path d="M336.70 241.60H355.00" stroke="#f00" stroke-width="2.0" stroke-dasharray="6.9 6.9"/>
<text x="362.80" y="233.50" font-size="9.2" fill="#111">Actuals</text>
<text x="362.80" y="244.50" font-size="9.2" fill="#111">Forecasts(November)</text>
<path d="M340.20 303.20 C341.25 303.13 344.38 303.08 346.50 302.80 C348.62 302.52 350.98 302.03 352.90 301.50 C354.82 300.97 356.30 300.55 358.00 299.60 C359.70 298.65 361.40 297.28 363.10 295.80 C364.80 294.32 366.50 292.40 368.20 290.70 C369.90 289.00 371.60 286.97 373.30 285.60 C375.00 284.23 376.70 283.23 378.40 282.50 C380.10 281.77 381.82 281.10 383.50 281.20 C385.18 281.30 386.82 282.25 388.50 283.10 C390.18 283.95 391.90 285.50 393.60 286.30 C395.30 287.10 397.40 287.62 398.70 287.90 C400.00 288.18 399.90 288.25 401.40 288.00 C402.90 287.75 405.58 287.10 407.70 286.40 C409.82 285.70 411.97 284.97 414.10 283.80 C416.23 282.63 418.38 281.30 420.50 279.40 C422.62 277.50 424.68 275.05 426.80 272.40 C428.92 269.75 431.28 265.83 433.20 263.50 C435.12 261.17 436.92 259.40 438.30 258.40 C439.68 257.40 440.33 257.30 441.50 257.50 C442.67 257.70 444.13 258.28 445.30 259.60 C446.47 260.92 447.33 262.75 448.50 265.40 C449.67 268.05 451.00 272.30 452.30 275.50 C453.60 278.70 455.05 281.80 456.30 284.60 C457.55 287.40 458.48 290.02 459.80 292.30 C461.12 294.58 462.57 296.77 464.20 298.30 C465.83 299.83 467.60 300.72 469.60 301.50 C471.60 302.28 474.02 302.72 476.20 303.00 C478.38 303.28 480.62 303.15 482.70 303.20 C484.78 303.25 487.70 303.28 488.70 303.30" fill="none" stroke="#000" stroke-width="1.5" stroke-linejoin="round"/>
<path d="M340.20 303.20 C341.25 303.17 344.38 303.20 346.50 303.00 C348.62 302.80 350.98 302.40 352.90 302.00 C354.82 301.60 356.30 301.32 358.00 300.60 C359.70 299.88 361.40 299.05 363.10 297.70 C364.80 296.35 366.50 294.37 368.20 292.50 C369.90 290.63 371.60 288.28 373.30 286.50 C375.00 284.72 376.60 282.97 378.40 281.80 C380.20 280.63 382.33 279.55 384.10 279.50 C385.87 279.45 387.42 280.42 389.00 281.50 C390.58 282.58 391.98 284.58 393.60 286.00 C395.22 287.42 397.20 289.20 398.70 290.00 C400.20 290.80 400.67 291.20 402.60 290.80 C404.53 290.40 407.75 289.08 410.30 287.60 C412.85 286.12 415.37 284.75 417.90 281.90 C420.43 279.05 422.95 274.10 425.50 270.50 C428.05 266.90 431.28 262.55 433.20 260.30 C435.12 258.05 435.83 257.75 437.00 257.00 C438.17 256.25 439.20 255.87 440.20 255.80 C441.20 255.73 442.15 256.17 443.00 256.60 C443.85 257.03 444.38 256.93 445.30 258.40 C446.22 259.87 447.33 262.55 448.50 265.40 C449.67 268.25 451.00 272.30 452.30 275.50 C453.60 278.70 455.05 281.80 456.30 284.60 C457.55 287.40 458.48 290.02 459.80 292.30 C461.12 294.58 462.57 296.77 464.20 298.30 C465.83 299.83 467.60 300.72 469.60 301.50 C471.60 302.28 474.02 302.72 476.20 303.00 C478.38 303.28 480.62 303.15 482.70 303.20 C484.78 303.25 487.70 303.28 488.70 303.30" fill="none" stroke="#f00" stroke-width="1.6" stroke-dasharray="4 3"/>
<text x="154.80" y="388.90" font-size="11.3" font-weight="bold" text-anchor="middle" fill="#000" style="stroke-width:0.12px">(i) December</text>
<text x="436.18" y="388.90" font-size="11.3" font-weight="bold" text-anchor="middle" fill="#000" style="stroke-width:0.12px">(i) December</text>
<path d="M48.10 407.10H261.50V493.70H48.10Z" fill="none" stroke="#2b2b2b" stroke-width="1.4"/>
<path d="M42.30 410.30H48.10M42.30 425.20H48.10M42.30 440.10H48.10M42.30 455.00H48.10M42.30 469.90H48.10M42.30 484.90H48.10" stroke="#2b2b2b" stroke-width="1.3" fill="none"/>
<text transform="translate(35.3 440.10) rotate(-90)" font-size="9.2" text-anchor="middle" fill="#111">35000</text>
<text transform="translate(35.3 484.90) rotate(-90)" font-size="9.2" text-anchor="middle" fill="#111">20000</text>
<text transform="translate(13.9 450.40) rotate(-90)" font-size="9.2" text-anchor="middle" fill="#111">Hourly electricity demand (MW)</text>
<path d="M54.50 493.70V499.30M113.82 493.70V499.30M173.14 493.70V499.30M232.46 493.70V499.30" stroke="#2b2b2b" stroke-width="1.3" fill="none"/>
<text x="54.50" y="513.70" font-size="9.2" text-anchor="middle" fill="#111">0</text>
<text x="113.82" y="513.70" font-size="9.2" text-anchor="middle" fill="#111">50</text>
<text x="173.14" y="513.70" font-size="9.2" text-anchor="middle" fill="#111">100</text>
<text x="232.46" y="513.70" font-size="9.2" text-anchor="middle" fill="#111">150</text>
<text x="154.80" y="535.50" font-size="9.2" text-anchor="middle" fill="#111">Observation number</text>
<path d="M48.10 407.10H173.50V439.60H48.10" fill="none" stroke="#2b2b2b" stroke-width="1.3"/>
<path d="M55.10 418.10H73.20" stroke="#000" stroke-width="2.1"/>
<path d="M55.10 429.10H73.20" stroke="#f00" stroke-width="2.1" stroke-dasharray="6.9 6.9"/>
<text x="80.90" y="421.00" font-size="9.2" fill="#111">Actuals</text>
<text x="80.90" y="432.00" font-size="9.2" fill="#111">Forecasts (Decmber)</text>
<path d="M55.50 473.50 C55.85 473.87 56.78 475.42 57.60 475.70 C58.42 475.98 59.67 475.92 60.40 475.20 C61.13 474.48 61.47 473.13 62.00 471.40 C62.53 469.67 63.05 466.98 63.60 464.80 C64.15 462.62 64.75 459.48 65.30 458.30 C65.85 457.12 66.27 457.52 66.90 457.70 C67.53 457.88 68.28 458.58 69.10 459.40 C69.92 460.22 71.07 461.78 71.80 462.60 C72.53 463.42 72.87 464.30 73.50 464.30 C74.13 464.30 74.92 463.28 75.60 462.60 C76.28 461.92 77.10 460.58 77.60 460.20 C78.10 459.82 78.20 459.80 78.60 460.30 C79.00 460.80 79.50 461.72 80.00 463.20 C80.50 464.68 81.05 467.30 81.60 469.20 C82.15 471.10 82.65 472.97 83.30 474.60 C83.95 476.23 84.78 478.08 85.50 479.00 C86.22 479.92 86.88 480.28 87.60 480.10 C88.32 479.92 89.15 479.17 89.80 477.90 C90.45 476.63 90.95 474.50 91.50 472.50 C92.05 470.50 92.57 467.63 93.10 465.90 C93.63 464.17 94.25 462.90 94.70 462.10 C95.15 461.30 95.35 461.20 95.80 461.10 C96.25 461.00 96.78 461.02 97.40 461.50 C98.02 461.98 98.88 463.18 99.50 464.00 C100.12 464.82 100.55 466.05 101.10 466.40 C101.65 466.75 102.23 466.50 102.80 466.10 C103.37 465.70 104.03 464.88 104.50 464.00 C104.97 463.12 105.23 461.85 105.60 460.80 C105.97 459.75 106.25 457.40 106.70 457.70 C107.15 458.00 107.77 460.50 108.30 462.60 C108.83 464.70 109.37 467.93 109.90 470.30 C110.43 472.67 110.95 475.27 111.50 476.80 C112.05 478.33 112.55 478.87 113.20 479.50 C113.85 480.13 114.68 481.05 115.40 480.60 C116.12 480.15 116.87 478.88 117.50 476.80 C118.13 474.72 118.65 470.82 119.20 468.10 C119.75 465.38 120.17 462.42 120.80 460.50 C121.43 458.58 122.27 457.33 123.00 456.60 C123.73 455.87 124.38 456.00 125.20 456.10 C126.02 456.20 126.90 457.20 127.90 457.20 C128.90 457.20 130.20 456.55 131.20 456.10 C132.20 455.65 133.23 455.08 133.90 454.50 C134.57 453.92 134.75 452.33 135.20 452.60 C135.65 452.87 136.08 453.88 136.60 456.10 C137.12 458.32 137.75 463.17 138.30 465.90 C138.85 468.63 139.27 470.77 139.90 472.50 C140.53 474.23 141.37 475.58 142.10 476.30 C142.83 477.02 143.67 477.27 144.30 476.80 C144.93 476.33 145.37 475.32 145.90 473.50 C146.43 471.68 146.87 468.35 147.50 465.90 C148.13 463.45 148.97 460.35 149.70 458.80 C150.43 457.25 151.08 456.87 151.90 456.60 C152.72 456.33 153.78 456.92 154.60 457.20 C155.42 457.48 155.98 458.40 156.80 458.30 C157.62 458.20 158.70 456.97 159.50 456.60 C160.30 456.23 161.07 456.45 161.60 456.10 C162.13 455.75 162.33 455.23 162.70 454.50 C163.07 453.77 163.43 451.43 163.80 451.70 C164.17 451.97 164.45 453.92 164.90 456.10 C165.35 458.28 165.95 462.25 166.50 464.80 C167.05 467.35 167.55 469.58 168.20 471.40 C168.85 473.22 169.68 474.80 170.40 475.70 C171.12 476.60 171.78 477.33 172.50 476.80 C173.22 476.27 174.05 474.50 174.70 472.50 C175.35 470.50 175.85 466.98 176.40 464.80 C176.95 462.62 177.37 460.77 178.00 459.40 C178.63 458.03 179.38 457.33 180.20 456.60 C181.02 455.87 182.00 454.90 182.90 455.00 C183.80 455.10 184.68 456.93 185.60 457.20 C186.52 457.47 187.58 456.97 188.40 456.60 C189.22 456.23 189.90 456.00 190.50 455.00 C191.10 454.00 191.53 450.60 192.00 450.60 C192.47 450.60 192.82 452.82 193.30 455.00 C193.78 457.18 194.27 460.78 194.90 463.70 C195.53 466.62 196.37 470.50 197.10 472.50 C197.83 474.50 198.57 475.07 199.30 475.70 C200.03 476.33 200.87 476.83 201.50 476.30 C202.13 475.77 202.57 474.42 203.10 472.50 C203.63 470.58 204.07 467.27 204.70 464.80 C205.33 462.33 206.08 459.15 206.90 457.70 C207.72 456.25 208.75 456.38 209.60 456.10 C210.45 455.82 211.18 455.72 212.00 456.00 C212.82 456.28 213.67 457.80 214.50 457.80 C215.33 457.80 216.25 456.22 217.00 456.00 C217.75 455.78 218.45 457.08 219.00 456.50 C219.55 455.92 219.88 452.75 220.30 452.50 C220.72 452.25 221.05 453.25 221.50 455.00 C221.95 456.75 222.50 460.50 223.00 463.00 C223.50 465.50 224.00 468.08 224.50 470.00 C225.00 471.92 225.42 473.42 226.00 474.50 C226.58 475.58 227.33 476.33 228.00 476.50 C228.67 476.67 229.42 476.33 230.00 475.50 C230.58 474.67 231.00 473.42 231.50 471.50 C232.00 469.58 232.50 466.08 233.00 464.00 C233.50 461.92 233.92 460.25 234.50 459.00 C235.08 457.75 235.75 457.17 236.50 456.50 C237.25 455.83 238.25 455.00 239.00 455.00 C239.75 455.00 240.33 455.92 241.00 456.50 C241.67 457.08 242.25 458.08 243.00 458.50 C243.75 458.92 244.75 458.75 245.50 459.00 C246.25 459.25 246.95 460.75 247.50 460.00 C248.05 459.25 248.38 455.00 248.80 454.50 C249.22 454.00 249.55 455.75 250.00 457.00 C250.45 458.25 251.00 460.17 251.50 462.00 C252.00 463.83 252.58 466.25 253.00 468.00 C253.42 469.75 253.83 471.75 254.00 472.50" fill="none" stroke="#000" stroke-width="2.15" stroke-linejoin="round" stroke-linecap="round"/>
<path d="M55.50 473.50 C55.85 473.87 56.78 475.42 57.60 475.70 C58.42 475.98 59.67 475.92 60.40 475.20 C61.13 474.48 61.47 473.13 62.00 471.40 C62.53 469.67 63.05 466.98 63.60 464.80 C64.15 462.62 64.75 459.48 65.30 458.30 C65.85 457.12 66.27 457.52 66.90 457.70 C67.53 457.88 68.28 458.58 69.10 459.40 C69.92 460.22 71.07 461.78 71.80 462.60 C72.53 463.42 72.87 464.34 73.50 464.30 C74.13 464.25 74.92 463.42 75.60 462.33 C76.28 461.24 77.10 458.47 77.60 457.76 C78.10 457.04 78.20 457.22 78.60 458.04 C79.00 458.86 79.50 460.80 80.00 462.66 C80.50 464.51 81.05 467.19 81.60 469.18 C82.15 471.17 82.65 472.96 83.30 474.60 C83.95 476.24 84.78 478.08 85.50 479.00 C86.22 479.92 86.88 480.28 87.60 480.10 C88.32 479.92 89.15 479.17 89.80 477.90 C90.45 476.63 90.95 474.50 91.50 472.50 C92.05 470.50 92.57 467.63 93.10 465.90 C93.63 464.17 94.25 462.90 94.70 462.10 C95.15 461.30 95.35 461.20 95.80 461.10 C96.25 461.00 96.78 461.02 97.40 461.50 C98.02 461.98 98.88 463.35 99.50 463.97 C100.12 464.60 100.55 465.49 101.10 465.26 C101.65 465.02 102.23 462.88 102.80 462.57 C103.37 462.27 104.03 463.73 104.50 463.43 C104.97 463.13 105.23 461.72 105.60 460.76 C105.97 459.81 106.25 457.39 106.70 457.70 C107.15 458.01 107.77 460.50 108.30 462.60 C108.83 464.70 109.37 467.93 109.90 470.30 C110.43 472.67 110.95 475.27 111.50 476.80 C112.05 478.33 112.55 478.87 113.20 479.50 C113.85 480.13 114.68 481.05 115.40 480.60 C116.12 480.15 116.87 478.88 117.50 476.80 C118.13 474.72 118.65 470.82 119.20 468.10 C119.75 465.38 120.17 462.42 120.80 460.50 C121.43 458.58 122.27 457.33 123.00 456.60 C123.73 455.87 124.38 456.00 125.20 456.10 C126.02 456.20 126.90 457.20 127.90 457.20 C128.90 457.20 130.20 456.55 131.20 456.10 C132.20 455.65 133.23 455.08 133.90 454.50 C134.57 453.92 134.75 452.33 135.20 452.60 C135.65 452.87 136.08 453.88 136.60 456.10 C137.12 458.32 137.75 463.17 138.30 465.90 C138.85 468.63 139.27 470.77 139.90 472.50 C140.53 474.23 141.37 475.58 142.10 476.30 C142.83 477.02 143.67 477.27 144.30 476.80 C144.93 476.33 145.37 475.32 145.90 473.50 C146.43 471.68 146.87 468.35 147.50 465.90 C148.13 463.45 148.97 460.35 149.70 458.80 C150.43 457.25 151.08 456.87 151.90 456.60 C152.72 456.33 153.78 456.92 154.60 457.20 C155.42 457.48 155.98 458.40 156.80 458.30 C157.62 458.20 158.70 456.97 159.50 456.60 C160.30 456.23 161.07 456.45 161.60 456.10 C162.13 455.75 162.33 455.23 162.70 454.50 C163.07 453.77 163.43 451.43 163.80 451.70 C164.17 451.97 164.45 453.92 164.90 456.10 C165.35 458.28 165.95 462.25 166.50 464.80 C167.05 467.35 167.55 469.58 168.20 471.40 C168.85 473.22 169.68 474.80 170.40 475.70 C171.12 476.60 171.78 477.33 172.50 476.80 C173.22 476.27 174.05 474.50 174.70 472.50 C175.35 470.50 175.85 466.98 176.40 464.80 C176.95 462.62 177.37 460.77 178.00 459.40 C178.63 458.03 179.38 457.33 180.20 456.60 C181.02 455.87 182.00 454.90 182.90 455.00 C183.80 455.10 184.68 456.93 185.60 457.20 C186.52 457.47 187.58 456.97 188.40 456.60 C189.22 456.23 189.90 456.00 190.50 455.00 C191.10 454.00 191.53 450.60 192.00 450.60 C192.47 450.60 192.82 452.82 193.30 455.00 C193.78 457.18 194.27 460.78 194.90 463.70 C195.53 466.62 196.37 470.50 197.10 472.50 C197.83 474.50 198.57 475.07 199.30 475.70 C200.03 476.33 200.87 476.83 201.50 476.30 C202.13 475.77 202.57 474.42 203.10 472.50 C203.63 470.58 204.07 467.27 204.70 464.80 C205.33 462.33 206.08 459.15 206.90 457.70 C207.72 456.25 208.75 456.38 209.60 456.10 C210.45 455.82 211.18 455.72 212.00 456.00 C212.82 456.28 213.67 457.80 214.50 457.80 C215.33 457.80 216.25 456.22 217.00 456.00 C217.75 455.78 218.45 457.08 219.00 456.50 C219.55 455.92 219.88 452.75 220.30 452.50 C220.72 452.25 221.05 453.25 221.50 455.00 C221.95 456.75 222.50 460.50 223.00 463.00 C223.50 465.50 224.00 468.08 224.50 470.00 C225.00 471.92 225.42 473.42 226.00 474.50 C226.58 475.58 227.33 476.33 228.00 476.50 C228.67 476.67 229.42 476.33 230.00 475.50 C230.58 474.67 231.00 473.42 231.50 471.50 C232.00 469.58 232.50 466.08 233.00 464.00 C233.50 461.92 233.92 460.25 234.50 459.00 C235.08 457.75 235.75 457.17 236.50 456.50 C237.25 455.83 238.25 455.00 239.00 455.00 C239.75 455.00 240.33 455.92 241.00 456.50 C241.67 457.08 242.25 458.08 243.00 458.50 C243.75 458.92 244.75 458.75 245.50 459.00 C246.25 459.25 246.95 460.75 247.50 460.00 C248.05 459.25 248.38 455.00 248.80 454.50 C249.22 454.00 249.55 455.75 250.00 457.00 C250.45 458.25 251.00 460.17 251.50 462.00 C252.00 463.83 252.58 466.25 253.00 468.00 C253.42 469.75 253.83 471.75 254.00 472.50" fill="none" stroke="#f00" stroke-width="2.15" stroke-linejoin="round" stroke-dasharray="7 7" stroke-dashoffset="0"/>
<path d="M329.40 490.80H542.95" stroke="#e0e0e0" stroke-width="0.9"/>
<path d="M329.40 407.10H542.95V493.70H329.40Z" fill="none" stroke="#2b2b2b" stroke-width="1.4"/>
<path d="M323.80 414.90H329.40M323.80 427.90H329.40M323.80 440.30H329.40M323.80 453.20H329.40M323.80 465.40H329.40M323.80 478.30H329.40M323.80 490.80H329.40" stroke="#2b2b2b" stroke-width="1.3" fill="none"/>
<text transform="translate(316.4 440.30) rotate(-90)" font-size="9.2" text-anchor="middle" fill="#111">0.00020</text>
<text transform="translate(316.4 490.80) rotate(-90)" font-size="9.2" text-anchor="middle" fill="#111">0.00000</text>
<text transform="translate(294.9 450.40) rotate(-90)" font-size="9.2" text-anchor="middle" fill="#111">Density</text>
<path d="M355.46 493.70V499.30M400.41 493.70V499.30M445.36 493.70V499.30M490.30 493.70V499.30M535.25 493.70V499.30" stroke="#2b2b2b" stroke-width="1.3" fill="none"/>
<text x="355.46" y="513.70" font-size="9.2" text-anchor="middle" fill="#111">20000</text>
<text x="400.41" y="513.70" font-size="9.2" text-anchor="middle" fill="#111">25000</text>
<text x="445.36" y="513.70" font-size="9.2" text-anchor="middle" fill="#111">30000</text>
<text x="490.30" y="513.70" font-size="9.2" text-anchor="middle" fill="#111">35000</text>
<text x="535.25" y="513.70" font-size="9.2" text-anchor="middle" fill="#111">40000</text>
<text x="436.18" y="535.50" font-size="9.2" text-anchor="middle" fill="#111" xml:space="preserve">Hourly electricity demand  (MW)</text>
<path d="M329.40 407.10H457.80V439.60H329.40" fill="none" stroke="#2b2b2b" stroke-width="1.3"/>
<path d="M336.70 418.10H355.00" stroke="#000" stroke-width="2.0"/>
<path d="M336.70 429.10H355.00" stroke="#f00" stroke-width="2.0" stroke-dasharray="6.9 6.9"/>
<text x="362.80" y="421.00" font-size="9.2" fill="#111">Actuals</text>
<text x="362.80" y="432.00" font-size="9.2" fill="#111">Forecasts(December)</text>
<path d="M344.00 490.60 C345.07 490.52 348.48 490.35 350.40 490.10 C352.32 489.85 353.82 489.70 355.50 489.10 C357.18 488.50 358.82 487.67 360.50 486.50 C362.18 485.33 363.90 483.78 365.60 482.10 C367.30 480.42 369.00 478.32 370.70 476.40 C372.40 474.48 374.10 472.08 375.80 470.60 C377.50 469.12 379.20 467.88 380.90 467.50 C382.60 467.12 384.30 467.57 386.00 468.30 C387.70 469.03 389.52 470.75 391.10 471.90 C392.68 473.05 393.98 474.35 395.50 475.20 C397.02 476.05 398.35 477.00 400.20 477.00 C402.05 477.00 404.45 476.10 406.60 475.20 C408.75 474.30 410.93 473.17 413.10 471.60 C415.27 470.03 417.43 467.97 419.60 465.80 C421.77 463.63 424.17 461.08 426.10 458.60 C428.03 456.12 429.70 453.15 431.20 450.90 C432.70 448.65 434.02 446.28 435.10 445.10 C436.18 443.92 436.73 443.70 437.70 443.80 C438.67 443.90 439.82 444.42 440.90 445.70 C441.98 446.98 443.12 449.02 444.20 451.50 C445.28 453.98 446.33 457.47 447.40 460.60 C448.47 463.73 449.58 467.48 450.60 470.30 C451.62 473.12 452.52 475.32 453.50 477.50 C454.48 479.68 455.27 481.60 456.50 483.40 C457.73 485.20 459.25 487.18 460.90 488.30 C462.55 489.42 464.58 489.72 466.40 490.10 C468.22 490.48 470.08 490.50 471.80 490.60 C473.52 490.70 475.88 490.68 476.70 490.70" fill="none" stroke="#000" stroke-width="1.5" stroke-linejoin="round"/>
<path d="M344.00 490.60 C345.07 490.57 348.48 490.50 350.40 490.40 C352.32 490.30 353.82 490.32 355.50 490.00 C357.18 489.68 358.82 489.33 360.50 488.50 C362.18 487.67 363.90 486.50 365.60 485.00 C367.30 483.50 369.00 481.42 370.70 479.50 C372.40 477.58 374.10 475.33 375.80 473.50 C377.50 471.67 379.52 469.72 380.90 468.50 C382.28 467.28 382.92 466.37 384.10 466.20 C385.28 466.03 386.68 466.70 388.00 467.50 C389.32 468.30 390.42 469.83 392.00 471.00 C393.58 472.17 395.70 473.33 397.50 474.50 C399.30 475.67 400.42 477.95 402.80 478.00 C405.18 478.05 408.78 476.30 411.80 474.80 C414.82 473.30 418.10 471.70 420.90 469.00 C423.70 466.30 426.23 462.17 428.60 458.60 C430.97 455.03 433.27 449.97 435.10 447.60 C436.93 445.23 438.20 444.40 439.60 444.40 C441.00 444.40 442.20 445.87 443.50 447.60 C444.80 449.33 446.00 451.45 447.40 454.80 C448.80 458.15 450.38 463.62 451.90 467.70 C453.42 471.78 454.98 476.28 456.50 479.30 C458.02 482.32 459.72 484.38 461.00 485.80 C462.28 487.22 462.77 487.15 464.20 487.80 C465.63 488.45 467.60 489.25 469.60 489.70 C471.60 490.15 473.83 490.33 476.20 490.50 C478.57 490.67 482.53 490.67 483.80 490.70" fill="none" stroke="#f00" stroke-width="1.6" stroke-dasharray="4 3"/>
</svg></body></html>
